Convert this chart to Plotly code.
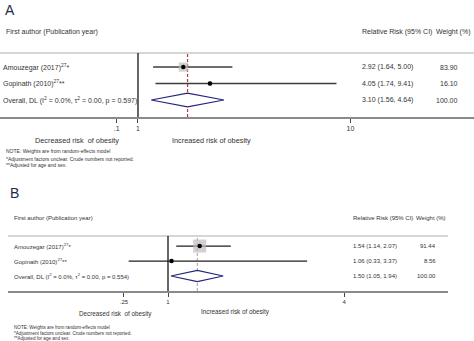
import plotly.graph_objects as go

W, H = 474, 341
FONT = "Arial, Liberation Sans, sans-serif"
TXT = "#333333"

# ---------------- data ----------------
a_studies = ["Amouzegar (2017)<sup>27</sup>*", "Gopinath (2010)<sup>27</sup>**"]
a_rr = [2.92, 4.05]
a_lo = [1.64, 1.74]
a_hi = [5.00, 9.41]
a_weight = [83.90, 16.10]
a_overall = [3.10, 1.56, 4.64]
a_overall_w = 100.00
a_overall_label = "Overall, DL (I<sup>2</sup> = 0.0%, τ<sup>2</sup> = 0.00, p = 0.597)"
a_ticks = [0.1, 1, 10]
a_ticklabels = [".1", "1", "10"]

b_studies = ["Amouzegar (2017)<sup>27</sup>*", "Gopinath (2010)<sup>27</sup>**"]
b_rr = [1.54, 1.06]
b_lo = [1.14, 0.33]
b_hi = [2.07, 3.37]
b_weight = [91.44, 8.56]
b_overall = [1.50, 1.05, 1.94]
b_overall_w = 100.00
b_overall_label = "Overall, DL (I<sup>2</sup> = 0.0%, τ<sup>2</sup> = 0.00, p = 0.554)"
b_ticks = [0.25, 1, 4]
b_ticklabels = [".25", "1", "4"]

header_left = "First author (Publication year)"
header_rr = "Relative Risk (95% CI)"
header_w = "Weight (%)"
dec_label = "Decreased risk  of obesity"
inc_label = "Increased risk of obesity"
notes = ["NOTE: Weights are from random-effects model",
         "*Adjustment factors unclear. Crude numbers not reported.",
         "**Adjusted for age and sex."]


def px(x):
    return x / W


def py(y):
    return 1 - y / H


fig = go.Figure()

panels = [
    dict(letter="A", studies=a_studies, rr=a_rr, lo=a_lo, hi=a_hi, w=a_weight,
         ov=a_overall, ovw=a_overall_w, ovlabel=a_overall_label,
         ticks=a_ticks, ticklabels=a_ticklabels,
         xa="x", ya="y", xaxis="xaxis", yaxis="yaxis",
         xdom=[0, 1], xrange=[-4.847, 15.237],
         ydom=[py(117), py(53)], yrange=[4.03, 0.15],
         letter_pos=(3, 10), hdr_y=32, hdr_x=4, rr_x=360, w_right=473, wcol_right=460,
         lab_x=1, fs=7, tfs=7, dec=(77, 140), inc=(211, 140), note_x=4,
         note_y=[151, 158.5, 164.5], nfs=5, box_k=1.0, dh=0.42,
         ci_color="#3c3c3c", dash_color="#b03a3a"),
    dict(letter="B", studies=b_studies, rr=b_rr, lo=b_lo, hi=b_hi, w=b_weight,
         ov=b_overall, ovw=b_overall_w, ovlabel=b_overall_label,
         ticks=b_ticks, ticklabels=b_ticklabels,
         xa="x2", ya="y2", xaxis="xaxis2", yaxis="yaxis2",
         xdom=[px(8), px(448)], xrange=[-1.7257, 5.770],
         ydom=[py(291), py(236)], yrange=[4.0, 0.33],
         letter_pos=(8, 193), hdr_y=217.5, hdr_x=12, rr_x=351, w_right=448, wcol_right=438,
         lab_x=12, fs=6, tfs=6, dec=(115, 314), inc=(235, 312), note_x=12,
         note_y=[327, 333.5, 338], nfs=4.6, box_k=1.36, dh=0.37,
         ci_color="#1e1e1e", dash_color="#d9a0a8"),
]

annotations = []
shapes = []

for p in panels:
    n = len(p["studies"])
    rows = list(range(1, n + 1))
    ov_row = n + 1
    # CI lines
    for r, lo, hi in zip(rows, p["lo"], p["hi"]):
        fig.add_trace(go.Scatter(x=[lo, hi], y=[r, r], mode="lines",
                                 line=dict(color=p["ci_color"], width=1.3),
                                 xaxis=p["xa"], yaxis=p["ya"], hoverinfo="skip"))
    # weight boxes
    fig.add_trace(go.Scatter(x=p["rr"], y=rows, mode="markers",
                             marker=dict(symbol="square", color="#bdbdbd",
                                         size=[p["box_k"] * (w ** 0.5) for w in p["w"]],
                                         line=dict(width=0)),
                             xaxis=p["xa"], yaxis=p["ya"], hoverinfo="skip"))
    # point estimates
    fig.add_trace(go.Scatter(x=p["rr"], y=rows, mode="markers",
                             marker=dict(symbol="circle", color="black", size=4.5),
                             xaxis=p["xa"], yaxis=p["ya"], hoverinfo="skip"))
    # overall diamond
    est, lo, hi = p["ov"]
    fig.add_trace(go.Scatter(x=[lo, est, hi, est, lo],
                             y=[ov_row, ov_row - p["dh"], ov_row, ov_row + p["dh"], ov_row],
                             mode="lines", fill="toself", fillcolor="white",
                             line=dict(color="#26267e", width=1.2),
                             xaxis=p["xa"], yaxis=p["ya"], hoverinfo="skip"))

    xd = p["xa"] + " domain"
    yd = p["ya"] + " domain"
    # top separator line
    shapes.append(dict(type="line", xref=xd, yref=yd, x0=0, x1=1, y0=1, y1=1,
                       line=dict(color="#c8c8c8", width=1.5), layer="below"))
    # null line
    shapes.append(dict(type="line", xref=p["xa"], yref=yd, x0=1, x1=1, y0=0, y1=1,
                       line=dict(color="black", width=1.2), layer="below"))
    # overall dashed line
    shapes.append(dict(type="line", xref=p["xa"], yref=yd, x0=est, x1=est, y0=0, y1=1,
                       line=dict(color=p["dash_color"], width=1.2, dash="3px,2px"),
                       layer="below"))

    fs = p["fs"]
    # panel letter
    annotations.append(dict(text=p["letter"], x=px(p["letter_pos"][0]), y=py(p["letter_pos"][1]),
                            xref="paper", yref="paper", xanchor="left", yanchor="middle",
                            showarrow=False, font=dict(size=14, color="#1c2a48", family=FONT)))
    # headers
    annotations.append(dict(text=header_left, x=px(p["hdr_x"]), y=py(p["hdr_y"]),
                            xref="paper", yref="paper", xanchor="left", yanchor="middle",
                            showarrow=False, font=dict(size=fs, color=TXT, family=FONT)))
    annotations.append(dict(text=header_rr, x=px(p["rr_x"]), y=py(p["hdr_y"]),
                            xref="paper", yref="paper", xanchor="left", yanchor="middle",
                            showarrow=False, font=dict(size=fs, color=TXT, family=FONT)))
    annotations.append(dict(text=header_w, x=px(p["w_right"]), y=py(p["hdr_y"]),
                            xref="paper", yref="paper", xanchor="right", yanchor="middle",
                            showarrow=False, font=dict(size=fs, color=TXT, family=FONT)))
    # row labels + stats
    labels = p["studies"] + [p["ovlabel"]]
    rrs = p["rr"] + [est]
    los = p["lo"] + [lo]
    his = p["hi"] + [hi]
    ws = p["w"] + [p["ovw"]]
    for r, lab, v, l, h, w in zip(rows + [ov_row], labels, rrs, los, his, ws):
        annotations.append(dict(text=lab, x=px(p["lab_x"]), y=r, xref="paper", yref=p["ya"],
                                xanchor="left", yanchor="middle", showarrow=False,
                                font=dict(size=fs, color=TXT, family=FONT)))
        annotations.append(dict(text=f"{v:.2f} ({l:.2f}, {h:.2f})", x=px(p["rr_x"]), y=r,
                                xref="paper", yref=p["ya"], xanchor="left", yanchor="middle",
                                showarrow=False, font=dict(size=fs, color=TXT, family=FONT)))
        annotations.append(dict(text=f"{w:.2f}", x=px(p["wcol_right"]), y=r,
                                xref="paper", yref=p["ya"], xanchor="right", yanchor="middle",
                                showarrow=False, font=dict(size=fs, color=TXT, family=FONT)))
    # direction labels
    for lab, pos in ((dec_label, p["dec"]), (inc_label, p["inc"])):
        annotations.append(dict(text=lab, x=px(pos[0]), y=py(pos[1]), xref="paper", yref="paper",
                                xanchor="center", yanchor="middle", showarrow=False,
                                font=dict(size=p["tfs"] + 0.3, color=TXT, family=FONT)))
    # notes
    for t, yy in zip(notes, p["note_y"]):
        annotations.append(dict(text=t, x=px(p["note_x"]), y=py(yy), xref="paper", yref="paper",
                                xanchor="left", yanchor="middle", showarrow=False,
                                font=dict(size=p["nfs"], color=TXT, family=FONT)))

    fig.layout[p["xaxis"]] = dict(domain=p["xdom"], range=p["xrange"], anchor=p["ya"],
                                  showgrid=False, zeroline=False, showline=True,
                                  linecolor="#8a8a8a", linewidth=2,
                                  ticks="outside", ticklen=4, tickwidth=1, tickcolor="#444",
                                  tickvals=p["ticks"], ticktext=p["ticklabels"],
                                  tickfont=dict(size=p["tfs"], color=TXT, family=FONT),
                                  fixedrange=True)
    fig.layout[p["yaxis"]] = dict(domain=p["ydom"], range=p["yrange"], anchor=p["xa"],
                                  visible=False, fixedrange=True)

fig.update_layout(width=W, height=H, margin=dict(l=0, r=0, t=0, b=0),
                  paper_bgcolor="white", plot_bgcolor="white", showlegend=False,
                  annotations=annotations, shapes=shapes)

fig.write_html("out.html", config={"displayModeBar": False})
